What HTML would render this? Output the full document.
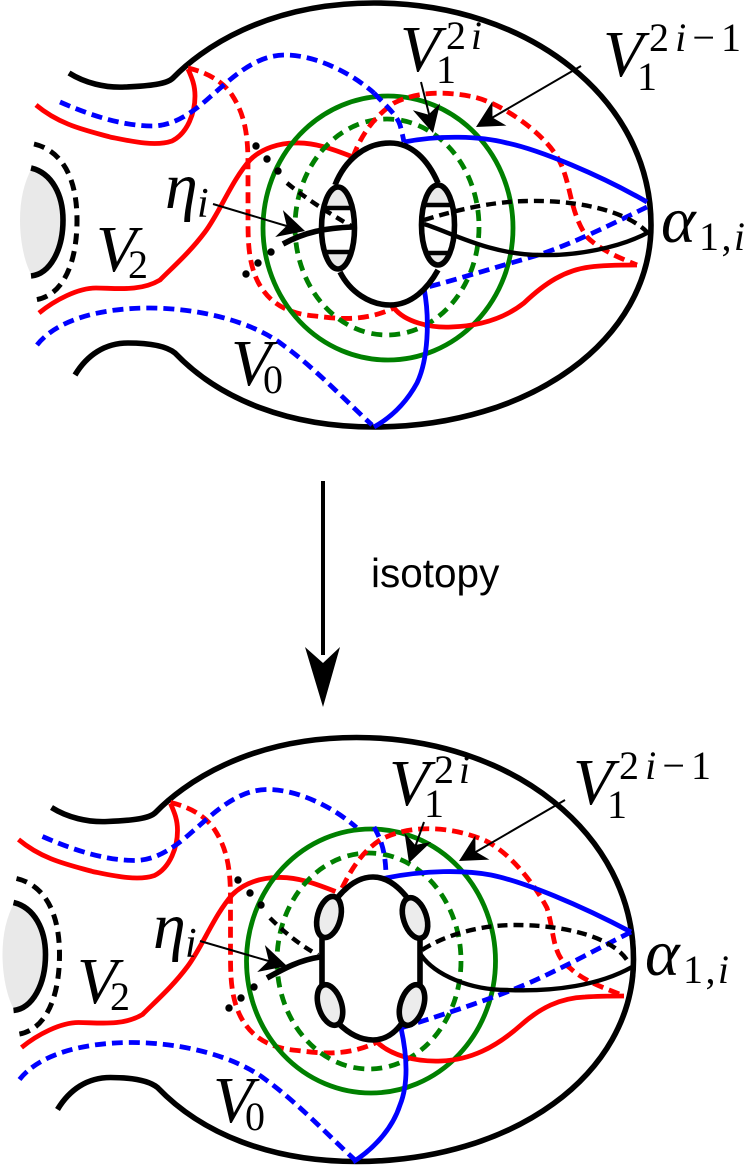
<!DOCTYPE html>
<html><head><meta charset="utf-8"><style>
html,body{margin:0;padding:0;background:#fff}
svg{display:block}
.k{stroke:#000;stroke-width:5.6}.kd{stroke:#000;stroke-width:5;stroke-dasharray:11 7}
.kt{stroke:#000;stroke-width:4.4}
.r{stroke:#f00;stroke-width:4.8}.rd{stroke:#f00;stroke-width:4.8;stroke-dasharray:11 6}
.b{stroke:#00f;stroke-width:4.8}.bd{stroke:#00f;stroke-width:4.8;stroke-dasharray:11 6}
.g{stroke:#008000;stroke-width:4.8}.gd{stroke:#008000;stroke-width:4.8;stroke-dasharray:11 7}
path,ellipse,line{fill:none}
.a{stroke:#000;stroke-width:2}
text{font-family:"Liberation Serif",serif;font-style:italic;fill:#000}
.l{font-size:66px}.s{font-size:40px;font-style:normal}.si{font-size:42px}
</style></head><body>
<svg width="747" height="1165" viewBox="0 0 747 1165" xmlns="http://www.w3.org/2000/svg">
<defs>
<g id="shared">
<path d="M32,168C24,182 20,200 20,220C20,240 24,262 32,276C50,272 63,250 63,220C63,195 52,175 32,168Z" style="fill:#e9e9e9"/>
<path class="k" d="M31,168C52,173 63,195 63,220C63,250 50,274 31,276"/>
<path class="kd" d="M34,144C60,150 77,175 77,220C77,265 62,297 34,300"/>
<path class="k" d="M69,73C85,83 105,88 125,87C150,86 167,84 173,78C200,50 265,3 374,3C530,3 651,100 651,225C651,340 530,427 374,427C290,427 220,400 175,353C165,345 145,343 128,343C105,343 87,355 75,375"/>
<path class="r" d="M36,105C60,125 85,130 110,137C130,141 155,147 172,141C188,133 195,112 195,96C195,84 191,76 188,69"/>
<path class="rd" d="M188,68C205,72 222,80 232,95C245,115 248,135 248,165L248,217C248,240 248,262 258,282C270,305 290,314 315,316C340,319 365,322 396,307"/>
<path class="r" d="M39,313C55,300 78,288 96,288C115,288 140,292 160,280C175,265 190,252 205,232C220,212 232,180 250,160C262,148 280,143 295,143C315,142 335,150 353,157"/>
<path class="bd" d="M60,102C85,113 120,126 152,126C172,126 190,115 210,97C232,78 255,55 285,55C315,55 350,72 374,93"/>
<path class="bd" d="M37,345C55,322 95,308 150,308C195,308 250,320 283,345C315,368 350,405 372,425"/>
</g>
<g id="ah1"><path d="M0,0L-27,-14L-19,0L-27,14Z" style="fill:#000"/></g>
</defs>

<!-- top -->
<use href="#shared"/>
<path d="M322,208C324,193 330,187 338,187C346,187 352,193 354,208Z" style="fill:#e9e9e9"/>
<path d="M325,252C328,264 332,269 338,269C344,269 348,264 351,252Z" style="fill:#e9e9e9"/>
<path d="M422,205C424,192 430,185 438,185C446,185 452,192 454,205Z" style="fill:#e9e9e9"/>
<path d="M425,253C428,262 432,265 438,265C444,265 448,262 451,253Z" style="fill:#e9e9e9"/>
<ellipse class="g" cx="388" cy="228" rx="125" ry="132"/>
<ellipse class="gd" cx="387" cy="227" rx="92" ry="108"/>
<path class="rd" d="M353,157C360,138 372,118 394,103C420,90 450,92 474,97C500,103 540,130 556,155C572,180 568,210 587,237C600,250 620,258 637,265"/>
<path class="r" d="M394,308C405,322 430,328 451,327C480,326 505,318 524,303C545,283 565,270 590,267C605,265 625,265 637,265"/>
<path class="bd" d="M374,93C385,105 397,115 400,125C402,132 403,137 404,142"/>
<path class="b" d="M404,142C440,135 480,136 507,143C540,150 600,175 647,202"/>
<path class="bd" d="M647,207C610,225 570,245 535,256C500,266 455,280 424,288"/>
<path class="b" d="M424,288C430,320 428,360 417,383C405,405 390,418 374,427"/>
<path class="k" d="M335,185C345,160 365,143 390,143C412,143 428,160 438,183"/>
<path class="k" d="M340,272C350,292 370,305 390,305C412,305 428,288 438,270"/>
<ellipse class="k" cx="338" cy="228" rx="16.5" ry="41"/>
<ellipse class="k" cx="438" cy="225" rx="16.5" ry="40"/>
<line class="kt" x1="323" y1="208" x2="354" y2="208"/>
<line class="kt" x1="325" y1="252" x2="351" y2="252"/>
<line class="kt" x1="423" y1="205" x2="453" y2="205"/>
<line class="kt" x1="425" y1="253" x2="451" y2="253"/>
<path class="k" d="M283,244C305,232 325,228 353,227" />
<path class="kd" style="stroke-width:4.4;stroke-dasharray:9 6" d="M287,183C305,198 330,214 353,227"/>
<path class="k" style="stroke-width:4.4" d="M424,224C450,232 490,255 541,255C575,256 620,248 649,232"/>
<path class="kd" style="stroke-width:4.4;stroke-dasharray:10 6" d="M424,220C450,212 490,201 530,201C575,200 625,210 647,232"/>
<g style="fill:#000"><circle cx="256" cy="146" r="3.7"/><circle cx="267" cy="159" r="3.7"/><circle cx="278" cy="171" r="3.7"/><circle cx="271" cy="252" r="3.7"/><circle cx="258" cy="263" r="3.7"/><circle cx="246" cy="274" r="3.7"/></g>
<line class="a" x1="213" y1="204" x2="290" y2="227"/>
<use href="#ah1" transform="translate(305,231) rotate(16)"/>
<line class="a" x1="421" y1="82" x2="430" y2="118"/>
<use href="#ah1" transform="translate(433,133) rotate(76)"/>
<line class="a" x1="581" y1="66" x2="490" y2="119"/>
<use href="#ah1" transform="translate(476,127) rotate(150)"/>

<text class="l" x="96" y="271">V</text><text class="s" x="128" y="278">2</text>
<text class="l" x="231" y="385">V</text><text class="s" x="263" y="393">0</text>
<text class="l" x="165" y="208">η</text><text class="si" x="197" y="217">i</text>
<text class="l" x="400" y="71">V</text><text class="s" x="446" y="49" textLength="36">2<tspan style="font-style:italic">i</tspan></text><text class="s" x="436" y="83">1</text>
<text class="l" x="603" y="76">V</text><text class="s" x="649" y="51" textLength="92">2<tspan style="font-style:italic">i</tspan>−1</text><text class="s" x="637" y="90">1</text>
<text class="l" x="661" y="242">α</text><text class="s" x="699" y="250" textLength="46">1,<tspan style="font-style:italic">i</tspan></text>

<!-- arrow -->
<line x1="323" y1="481" x2="323" y2="655" style="stroke:#000;stroke-width:4"/>
<path d="M305,647L323,663L340,647L323,707Z" style="fill:#000"/>
<text x="371" y="587" style="font-family:'Liberation Sans',sans-serif;font-style:normal;font-size:40.5px">isotopy</text>

<!-- bottom -->
<use href="#shared" transform="translate(-17.5,734.5)"/>
<ellipse class="g" cx="371" cy="961" rx="124.5" ry="132"/>
<ellipse class="gd" cx="369" cy="961" rx="92" ry="108"/>
<path class="rd" d="M342,888C352,868 362,852 380,840C405,826 445,824 484,840C510,852 535,885 547,908C555,935 552,955 570,968C585,982 605,988 624,996"/>
<path class="r" d="M377,1042C390,1055 415,1062 441,1061C470,1060 495,1048 521,1025C540,1008 560,998 585,997C600,996 612,996 624,996"/>
<path class="bd" d="M374,827C380,838 386,850 386,878"/>
<path class="b" d="M386,878C425,870 465,870 491,875C525,882 580,905 631,932"/>
<path class="bd" d="M631,932C595,950 550,975 517,988C480,1003 435,1017 401,1028"/>
<path class="b" d="M401,1028C408,1060 408,1085 400,1105C392,1130 372,1150 353,1162"/>
<path class="k" d="M338,897C348,885 360,877 373,877C388,877 400,888 409,900"/>
<path class="k" d="M322,937L322,985"/>
<path class="k" d="M420,937L420,987"/>
<path class="k" d="M338,1023C348,1033 360,1040 373,1040C385,1040 395,1033 402,1023"/>
<ellipse class="k" cx="329" cy="917" rx="11.5" ry="21" transform="rotate(15 329 917)" style="fill:#ececec"/>
<ellipse class="k" cx="415" cy="918" rx="11.5" ry="21" transform="rotate(-18 415 918)" style="fill:#ececec"/>
<ellipse class="k" cx="330" cy="1005" rx="11.5" ry="21" transform="rotate(-18 330 1005)" style="fill:#ececec"/>
<ellipse class="k" cx="412" cy="1005" rx="11.5" ry="21" transform="rotate(18 412 1005)" style="fill:#ececec"/>
<path class="k" d="M267,978C285,968 300,960 320,957"/>
<path class="kd" style="stroke-width:4.4;stroke-dasharray:9 6" d="M270,918C285,933 300,945 318,955"/>
<path class="k" style="stroke-width:4.4" d="M421,955C435,975 470,990 507,990C555,992 600,985 632,967"/>
<path class="kd" style="stroke-width:4.4;stroke-dasharray:10 6" d="M422,950C445,935 480,925 515,925C560,925 610,935 627,960"/>
<g style="fill:#000"><circle cx="238" cy="880" r="3.7"/><circle cx="250" cy="893" r="3.7"/><circle cx="261" cy="905" r="3.7"/><circle cx="254" cy="987" r="3.7"/><circle cx="241" cy="998" r="3.7"/><circle cx="229" cy="1008" r="3.7"/></g>
<line class="a" x1="200" y1="941" x2="272" y2="962"/>
<use href="#ah1" transform="translate(287,966) rotate(16)"/>
<line class="a" x1="424" y1="822" x2="414" y2="850"/>
<use href="#ah1" transform="translate(409,863) rotate(109)"/>
<line class="a" x1="565" y1="800" x2="474" y2="853"/>
<use href="#ah1" transform="translate(459,861) rotate(150)"/>

<text class="l" x="77" y="1003">V</text><text class="s" x="110" y="1010">2</text>
<text class="l" x="213" y="1122">V</text><text class="s" x="245" y="1130">0</text>
<text class="l" x="153" y="948">η</text><text class="si" x="185" y="957">i</text>
<text class="l" x="389" y="805">V</text><text class="s" x="434" y="783" textLength="36">2<tspan style="font-style:italic">i</tspan></text><text class="s" x="424" y="817">1</text>
<text class="l" x="573" y="804">V</text><text class="s" x="619" y="779" textLength="92">2<tspan style="font-style:italic">i</tspan>−1</text><text class="s" x="607" y="818">1</text>
<text class="l" x="645" y="975">α</text><text class="s" x="683" y="983" textLength="46">1,<tspan style="font-style:italic">i</tspan></text>
</svg>
</body></html>
